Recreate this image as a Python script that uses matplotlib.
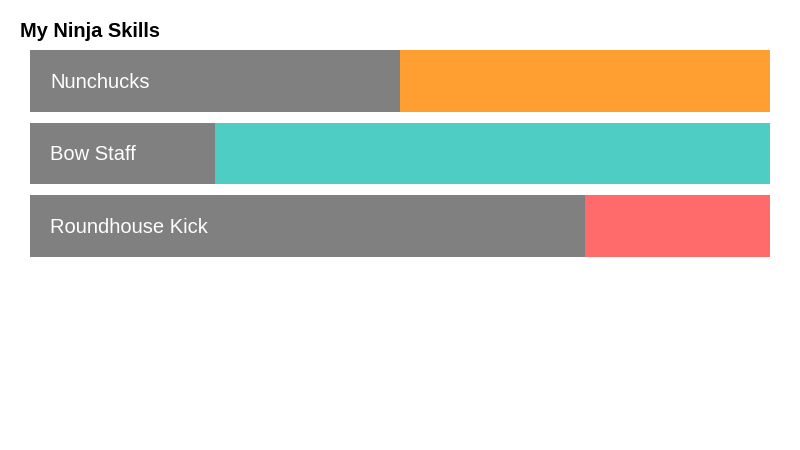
import matplotlib
matplotlib.use("Agg")
import matplotlib.pyplot as plt

skills = ["Nunchucks", "Bow Staff", "Roundhouse Kick"]
base = [50, 25, 75]
remainder = [50, 75, 25]
colors = ["#FF9F31", "#4ECDC4", "#FF6B6B"]
gray = "#808080"

plt.rcParams["font.family"] = ["Liberation Sans", "DejaVu Sans"]

fig = plt.figure(figsize=(8, 4.5), dpi=100)
ax = fig.add_axes([30/800, 1-257/450, 740/800, 207/450])
pos = list(range(len(skills)))
h = 0.855
ax.barh(pos, base, height=h, color=gray)
ax.barh(pos, remainder, left=base, height=h, color=colors)
for p, s in zip(pos, skills):
    ax.text(20/740*100, p + 0.02, s, color="white", fontsize=14.5, va="center", ha="left")
ax.set_xlim(0, 100)
ax.set_ylim(2 + h/2, -h/2)
ax.axis("off")
fig.text(20/800, 1-31.5/450, "My Ninja Skills", fontsize=14.4, fontweight="bold", va="center", ha="left")
fig.savefig("out.png", dpi=100)
